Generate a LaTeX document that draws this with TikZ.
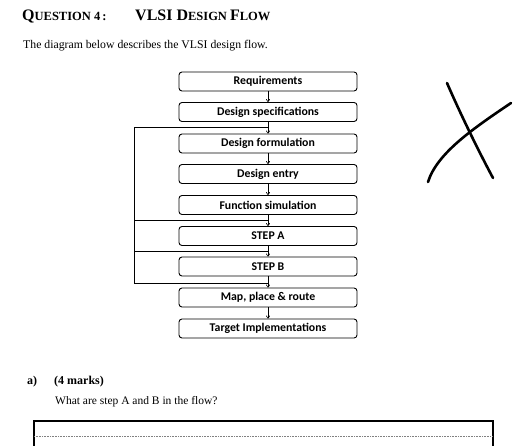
\documentclass[tikz,border=0pt]{standalone}
\usepackage{fontspec}
\setmainfont{Liberation Serif}
\newfontfamily\boxfont{Carlito}
\usetikzlibrary{arrows.meta,calc}
\begin{document}
\begin{tikzpicture}[x=1pt,y=-1pt,
  flowbox/.style={draw,line width=0.9pt,rounded corners=3pt,minimum width=178pt,minimum height=19pt,inner sep=0pt,font=\boxfont\bfseries\fontsize{11.8}{13}\selectfont},
  flowarrow/.style={line width=0.6pt,-{To[length=3pt,width=4pt]}},
  fbline/.style={line width=0.6pt},
  txt/.style={inner sep=0pt,anchor=base west}]
\useasboundingbox (0,0) rectangle (521,446);
\clip (0,0) rectangle (521,446);
% title
\node[txt] (title1) at (22,21) {\bfseries\fontsize{16}{18}\selectfont Q\fontsize{12.5}{14}\selectfont UESTION 4\,:};
\node[txt] (title2) at (135,21) {\bfseries\fontsize{16}{18}\selectfont VLSI D\fontsize{12.5}{14}\selectfont ESIGN \fontsize{16}{18}\selectfont F\fontsize{12.5}{14}\selectfont LOW};
\node[txt] (intro) at (23,49) {\fontsize{11.75}{13}\selectfont The diagram below describes the VLSI design flow.};
% flow boxes
\node[flowbox] (b1) at (268,81.5) {Requirements};
\node[flowbox] (b2) at (268,112.0) {Design specifications};
\node[flowbox] (b3) at (268,143.5) {Design formulation};
\node[flowbox] (b4) at (268,174.0) {Design entry};
\node[flowbox] (b5) at (268,205.0) {Function simulation};
\node[flowbox] (b6) at (268,236.0) {STEP A};
\node[flowbox] (b7) at (268,266.5) {STEP B};
\node[flowbox] (b8) at (268,297.5) {Map, place \& route};
\node[flowbox] (b9) at (268,328.5) {Target Implementations};
\foreach \a/\b in {b1/b2,b2/b3,b3/b4,b4/b5,b5/b6,b6/b7,b7/b8,b8/b9}
  \draw[flowarrow] (\a.south) -- (\b.north);
% feedback lines
\coordinate (j0) at ($(b2.south)!0.5!(b3.north)$);
\coordinate (j1) at ($(b5.south)!0.45!(b6.north)$);
\coordinate (j2) at ($(b6.south)!0.55!(b7.north)$);
\coordinate (j3) at ($(b7.south)!0.6!(b8.north)$);
\coordinate (l0) at (134,0 |- j0);
\coordinate (l3) at (134,0 |- j3);
\draw[fbline] (j0) -- (l0) -- (l3) -- (j3);
\draw[fbline] (j1) -- (j1 -| l0);
\draw[fbline] (j2) -- (j2 -| l0);
% hand-drawn cross
\draw[line width=2.6pt,line cap=round] (447,83) .. controls (460,113) and (478,150) .. (493,178);
\draw[line width=2.6pt,line cap=round] (511,103) .. controls (474,128) and (437,153) .. (428,182);
% question a)
\node[txt] (qa) at (27,384) {\bfseries\fontsize{12}{14}\selectfont a)};
\node[txt] (marks) at (54,384) {\bfseries\fontsize{12}{14}\selectfont (4 marks)};
\node[txt] (ask) at (55,404) {\fontsize{11.5}{14}\selectfont What are step A and B in the flow?};
% answer box
\coordinate (bx1) at (34,421);
\coordinate (bx2) at (493,460);
\draw[line width=1.2pt] (bx1 |- bx2) -- (bx1) -- (bx2 |- bx1) -- (bx2);
\draw[line width=1.6pt] (bx1) -- (bx2 |- bx1);
\coordinate (dl) at (34,436);
\draw[line width=0.5pt,dash pattern=on 1pt off 0.6pt,gray] (dl) -- (dl -| bx2);
\end{tikzpicture}
\end{document}
